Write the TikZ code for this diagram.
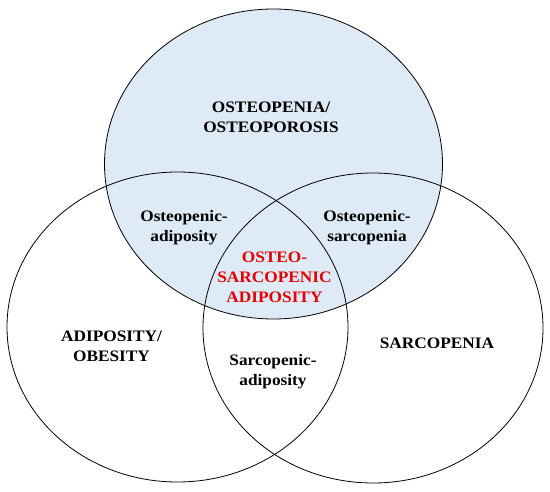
\documentclass[tikz,border=0pt]{standalone}
\usepackage{fontspec}
\setmainfont{Liberation Serif}[FakeStretch=1.08]
\definecolor{venfill}{RGB}{222,234,246}
\definecolor{venred}{RGB}{228,0,0}
\tikzset{
  setline/.style={draw=black,line width=0.8pt},
  lbl/.style={align=center,font=\fontsize{16}{20}\selectfont\bfseries,inner sep=0pt},
  redlbl/.style={lbl,text=venred}
}
\begin{document}
\begin{tikzpicture}[x=1pt,y=-1pt]
\useasboundingbox (0,0) rectangle (550,492);
\fill[venfill] (273.5,164) ellipse [x radius=169,y radius=155];
\draw[setline] (273.5,164) ellipse [x radius=169,y radius=155];
\draw[setline] (177.5,327) ellipse [x radius=170.5,y radius=155];
\draw[setline] (373,328) ellipse [x radius=170,y radius=155];
\node[lbl] (osteo) at (271,117) {OSTEOPENIA/\\OSTEOPOROSIS};
\node[lbl] (oa) at (184,228) {Osteopenic-\\adiposity};
\node[lbl] (os) at (367,228) {Osteopenic-\\sarcopenia};
\node[redlbl] (osa) at (274.5,277) {OSTEO-\\SARCOPENIC\\ADIPOSITY};
\node[lbl] (adip) at (111.5,346) {ADIPOSITY/\\OBESITY};
\node[lbl] (sarc) at (437,343) {SARCOPENIA};
\node[lbl] (sa) at (273,372) {Sarcopenic-\\adiposity};
\end{tikzpicture}
\end{document}
